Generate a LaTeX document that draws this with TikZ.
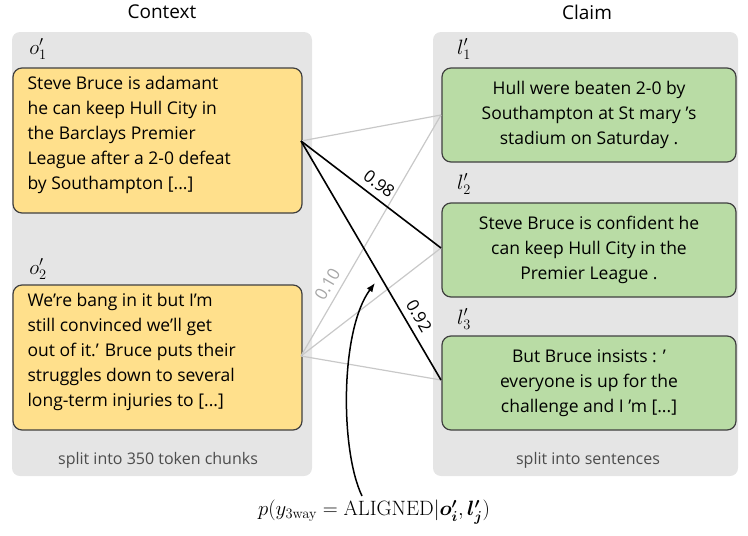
\documentclass[tikz,border=0pt]{standalone}
\usepackage{amsmath,amssymb,bm}
\usepackage[no-math]{fontspec}
\setmainfont{Open Sans}
\usetikzlibrary{arrows.meta}
\definecolor{panel}{HTML}{E5E5E5}
\definecolor{ctx}{HTML}{FFE08C}
\definecolor{clm}{HTML}{B9DCA5}
\definecolor{edgegray}{HTML}{C8C8C8}
\tikzset{
  panel/.style={fill=panel,rounded corners=8pt,draw=none},
  box/.style={draw=black!75,line width=1.2pt,rounded corners=9pt,inner sep=0pt},
  txt/.style={font=\fontsize{17.5}{25}\selectfont,align=left},
  ctxt/.style={font=\fontsize{17.5}{25}\selectfont,align=center},
  lab/.style={font=\fontsize{22}{23}\selectfont},
  weak/.style={edgegray,line width=1.2pt},
  strong/.style={black,line width=1.6pt},
  wlabel/.style={font=\fontsize{17}{18}\selectfont,sloped,above=3pt}
}
\begin{document}
\begin{tikzpicture}[x=1pt,y=-1pt]
\useasboundingbox (0,0) rectangle (748,536);
% panels
\fill[panel] (12,32) rectangle (312,476);
\fill[panel] (433,32) rectangle (738,476);
\node[font=\fontsize{19}{21}\selectfont] (tctx) at (162,12) {Context};
\node[font=\fontsize{19}{21}\selectfont] (tclm) at (587,12) {Claim};
\node[font=\fontsize{16}{18}\selectfont,text=black!70] (sctx) at (158,460) {split into 350 token chunks};
\node[font=\fontsize{16}{18}\selectfont,text=black!70] (sclm) at (588,460) {split into sentences};
% context boxes
\filldraw[box,fill=ctx] (13,68) rectangle (302,213);
\filldraw[box,fill=ctx] (13,285) rectangle (302,430);
\node[txt,anchor=north west] (o1) at (24,73) {Steve Bruce is adamant\\he can keep Hull City in\\the Barclays Premier\\League after a 2-0 defeat\\by Southampton [...]};
\node[txt,anchor=north west] (o2) at (24,290) {We're bang in it but I'm\\still convinced we'll get\\out of it.' Bruce puts their\\struggles down to several\\long-term injuries to [...]};
% claim boxes
\filldraw[box,fill=clm] (442,68) rectangle (736,162);
\filldraw[box,fill=clm] (442,203) rectangle (736,297);
\filldraw[box,fill=clm] (442,336) rectangle (736,430);
\node[ctxt] (l1) at (589,115) {Hull were beaten 2-0 by\\Southampton at St mary 's\\stadium on Saturday .};
\node[ctxt] (l2) at (589,250) {Steve Bruce is confident he\\can keep Hull City in the\\Premier League .};
\node[ctxt] (l3) at (589,383) {But Bruce insists : '\\everyone is up for the\\challenge and I 'm [...]};
% labels
\node[lab] (lo1) at (38,49) {$o'_1$};
\node[lab] (lo2) at (38,269) {$o'_2$};
\node[lab] (ll1) at (464,49) {$l'_1$};
\node[lab] (ll2) at (464,184) {$l'_2$};
\node[lab] (ll3) at (464,319) {$l'_3$};
% anchors
\coordinate (a1) at (301,141);
\coordinate (a2) at (301,356);
\coordinate (b1) at (441,115);
\coordinate (b2) at (441,248);
\coordinate (b3) at (441,380);
% edges
\draw[weak] (a1) -- (b1);
\draw[weak] (a2) -- node[pos=0.27,wlabel,text=black!35] {0.10} (b1);
\draw[weak] (a2) -- (b2);
\draw[weak] (a2) -- (b3);
\draw[strong] (a1) -- node[pos=0.5,wlabel] {0.98} (b2);
\draw[strong] (a1) -- node[pos=0.76,wlabel] {0.92} (b3);
% formula
\node[font=\fontsize{20}{22}\selectfont] (f) at (374,512) {$p(y_{\mathrm{3way}} = \mathrm{ALIGNED}|\bm{o'_i},\bm{l'_j})$};
\coordinate (tip) at (375,283);
\draw[line width=1.5pt,-{Latex[length=9pt,width=7pt]}] (362,496) .. controls (340,450) and (340,330) .. (tip);
\end{tikzpicture}
\end{document}
